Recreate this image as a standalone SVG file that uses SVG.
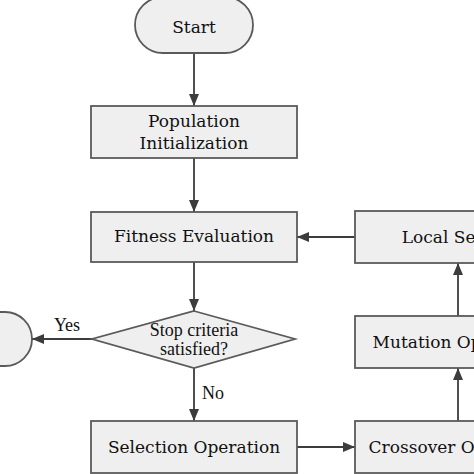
<svg xmlns="http://www.w3.org/2000/svg" width="474" height="474" viewBox="0 0 474 474">
<defs>
<style>
.box{fill:#efefef;stroke:#5a5a5a;stroke-width:1.8}
.t{font-family:"DejaVu Serif","Liberation Serif",serif;font-size:17px;fill:#111111;text-anchor:middle;dominant-baseline:central}
.tt{font-family:"Liberation Serif",serif;font-size:18px;fill:#111111;text-anchor:middle;dominant-baseline:central}
.c{fill:none;stroke:#3c3c3c;stroke-width:1.8}
</style>
<marker id="ah" viewBox="0 0 12 10" refX="12" refY="5" markerWidth="12" markerHeight="10" markerUnits="userSpaceOnUse" orient="auto">
<path d="M0,0 L12,5 L0,10 Z" fill="#3c3c3c"/>
</marker>
</defs>
<rect width="474" height="474" fill="#ffffff"/>
<g id="connectors">
<line class="c" x1="194" y1="53" x2="194" y2="106" marker-end="url(#ah)"/>
<line class="c" x1="194" y1="158" x2="194" y2="212" marker-end="url(#ah)"/>
<line class="c" x1="194" y1="262" x2="194" y2="311" marker-end="url(#ah)"/>
<line class="c" x1="92" y1="339" x2="32" y2="339" marker-end="url(#ah)"/>
<line class="c" x1="194" y1="368" x2="194" y2="421" marker-end="url(#ah)"/>
<line class="c" x1="297" y1="447" x2="355" y2="447" marker-end="url(#ah)"/>
<line class="c" x1="458" y1="421" x2="458" y2="368" marker-end="url(#ah)"/>
<line class="c" x1="458" y1="316" x2="458" y2="263" marker-end="url(#ah)"/>
<line class="c" x1="355" y1="237" x2="297" y2="237" marker-end="url(#ah)"/>
<text class="tt" x="67" y="325">Yes</text>
<text class="tt" x="213" y="393">No</text>
</g>
<g id="start">
<rect class="box" x="135" y="-3" width="118" height="56" rx="28"/>
<text class="t" x="194" y="27">Start</text>
</g>
<g id="end">
<rect class="box" x="-60" y="312" width="92" height="54" rx="27"/>
</g>
<g id="population">
<rect class="box" x="91" y="106" width="206" height="52"/>
<text class="t" x="194" y="121">Population</text>
<text class="t" x="194" y="143">Initialization</text>
</g>
<g id="fitness">
<rect class="box" x="91" y="212" width="206" height="50"/>
<text class="t" x="194" y="236">Fitness Evaluation</text>
</g>
<g id="stop">
<polygon class="box" points="194,311 295,339 194,368 92,339"/>
<text class="tt" x="194" y="330">Stop criteria</text>
<text class="tt" x="194" y="349">satisfied?</text>
</g>
<g id="selection">
<rect class="box" x="91" y="421" width="206" height="52"/>
<text class="t" x="194" y="447">Selection Operation</text>
</g>
<g id="crossover">
<rect class="box" x="355" y="421" width="206" height="52"/>
<text class="t" x="458" y="447">Crossover Operation</text>
</g>
<g id="mutation">
<rect class="box" x="355" y="316" width="206" height="52"/>
<text class="t" x="458" y="342">Mutation Operation</text>
</g>
<g id="localsearch">
<rect class="box" x="355" y="211" width="206" height="52"/>
<text class="t" x="458" y="237">Local Search</text>
</g>
</svg>
